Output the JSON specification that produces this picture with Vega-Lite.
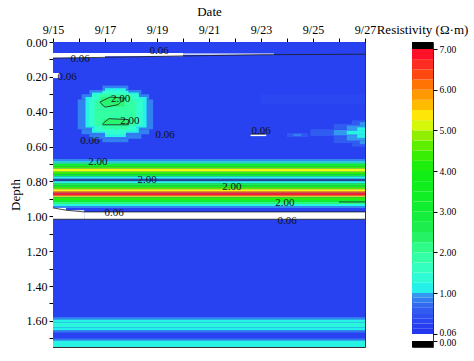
{
  "$schema": "https://vega.github.io/schema/vega-lite/v6.json",
  "padding": {"left": 8, "top": 4, "right": 0, "bottom": 5},
  "spacing": 47,
  "bounds": "flush",
  "datasets": {
    "cells": [
      {"d0": 15, "d1": 27, "z0": 0, "z1": 1.75, "r": 0.3},
      {"d0": 23.0, "d1": 27, "z0": 0.3, "z1": 0.36, "r": 0.38},
      {"d0": 15, "d1": 17, "z0": 0.063, "z1": 0.09, "r": 0.03},
      {"d0": 17, "d1": 20, "z0": 0.063, "z1": 0.082, "r": 0.03},
      {"d0": 20, "d1": 23.5, "z0": 0.066, "z1": 0.073, "r": 0.03},
      {"d0": 15, "d1": 15.25, "z0": 0.178, "z1": 0.207, "r": 0.03},
      {"d0": 16.9, "d1": 17.9, "z0": 0.25, "z1": 0.275, "r": 0.85},
      {"d0": 16.4, "d1": 18.4, "z0": 0.275, "z1": 0.3, "r": 0.85},
      {"d0": 16.1, "d1": 18.7, "z0": 0.3, "z1": 0.33, "r": 0.85},
      {"d0": 15.95, "d1": 18.85, "z0": 0.33, "z1": 0.5, "r": 0.85},
      {"d0": 16.1, "d1": 18.7, "z0": 0.5, "z1": 0.53, "r": 0.85},
      {"d0": 16.4, "d1": 18.4, "z0": 0.53, "z1": 0.555, "r": 0.85},
      {"d0": 16.9, "d1": 17.9, "z0": 0.555, "z1": 0.575, "r": 0.85},
      {"d0": 17.0, "d1": 17.8, "z0": 0.265, "z1": 0.29, "r": 1.15},
      {"d0": 16.5, "d1": 18.3, "z0": 0.29, "z1": 0.315, "r": 1.15},
      {"d0": 16.25, "d1": 18.6, "z0": 0.315, "z1": 0.49, "r": 1.15},
      {"d0": 16.5, "d1": 18.3, "z0": 0.49, "z1": 0.52, "r": 1.15},
      {"d0": 17.0, "d1": 17.8, "z0": 0.52, "z1": 0.545, "r": 1.15},
      {"d0": 16.9, "d1": 17.9, "z0": 0.28, "z1": 0.3, "r": 1.5},
      {"d0": 16.5, "d1": 18.3, "z0": 0.3, "z1": 0.33, "r": 1.5},
      {"d0": 16.4, "d1": 18.45, "z0": 0.33, "z1": 0.48, "r": 1.5},
      {"d0": 16.6, "d1": 18.2, "z0": 0.48, "z1": 0.51, "r": 1.5},
      {"d0": 17.0, "d1": 17.8, "z0": 0.51, "z1": 0.53, "r": 1.5},
      {"d0": 16.8, "d1": 18.0, "z0": 0.3, "z1": 0.33, "r": 1.9},
      {"d0": 16.6, "d1": 18.2, "z0": 0.33, "z1": 0.48, "r": 1.9},
      {"d0": 16.9, "d1": 17.9, "z0": 0.48, "z1": 0.5, "r": 1.9},
      {"d0": 16.85, "d1": 17.75, "z0": 0.318, "z1": 0.37, "r": 2.3},
      {"d0": 16.95, "d1": 17.9, "z0": 0.442, "z1": 0.475, "r": 2.3},
      {"d0": 24.9, "d1": 27, "z0": 0.5, "z1": 0.54, "r": 0.6},
      {"d0": 25.8, "d1": 27, "z0": 0.47, "z1": 0.5, "r": 0.6},
      {"d0": 25.8, "d1": 27, "z0": 0.54, "z1": 0.58, "r": 0.6},
      {"d0": 26.5, "d1": 27, "z0": 0.45, "z1": 0.47, "r": 0.6},
      {"d0": 26.5, "d1": 27, "z0": 0.58, "z1": 0.6, "r": 0.6},
      {"d0": 25.8, "d1": 27, "z0": 0.505, "z1": 0.535, "r": 0.95},
      {"d0": 26.3, "d1": 27, "z0": 0.48, "z1": 0.505, "r": 0.95},
      {"d0": 26.3, "d1": 27, "z0": 0.535, "z1": 0.565, "r": 0.95},
      {"d0": 26.8, "d1": 27, "z0": 0.46, "z1": 0.48, "r": 0.95},
      {"d0": 26.8, "d1": 27, "z0": 0.565, "z1": 0.585, "r": 0.95},
      {"d0": 26.3, "d1": 27, "z0": 0.51, "z1": 0.53, "r": 1.2},
      {"d0": 26.7, "d1": 27, "z0": 0.49, "z1": 0.51, "r": 1.2},
      {"d0": 26.7, "d1": 27, "z0": 0.53, "z1": 0.55, "r": 1.2},
      {"d0": 24.0, "d1": 24.8, "z0": 0.522, "z1": 0.545, "r": 0.55},
      {"d0": 24.25, "d1": 24.55, "z0": 0.527, "z1": 0.54, "r": 0.85},
      {"d0": 22.6, "d1": 23.2, "z0": 0.53, "z1": 0.54, "r": 0.03},
      {"d0": 15, "d1": 27, "z0": 0.672, "z1": 0.684, "r": 0.9},
      {"d0": 15, "d1": 27, "z0": 0.684, "z1": 0.692, "r": 1.2},
      {"d0": 15, "d1": 27, "z0": 0.692, "z1": 0.699, "r": 2.0},
      {"d0": 15, "d1": 27, "z0": 0.699, "z1": 0.713, "r": 3.0},
      {"d0": 15, "d1": 27, "z0": 0.713, "z1": 0.726, "r": 4.3},
      {"d0": 15, "d1": 27, "z0": 0.726, "z1": 0.745, "r": 5.2},
      {"d0": 15, "d1": 27, "z0": 0.745, "z1": 0.759, "r": 4.3},
      {"d0": 15, "d1": 27, "z0": 0.759, "z1": 0.772, "r": 3.0},
      {"d0": 15, "d1": 27, "z0": 0.772, "z1": 0.784, "r": 1.3},
      {"d0": 15, "d1": 27, "z0": 0.784, "z1": 0.799, "r": 0.7},
      {"d0": 15, "d1": 27, "z0": 0.799, "z1": 0.81, "r": 1.3},
      {"d0": 15, "d1": 27, "z0": 0.81, "z1": 0.822, "r": 2.6},
      {"d0": 15, "d1": 27, "z0": 0.822, "z1": 0.833, "r": 3.5},
      {"d0": 15, "d1": 27, "z0": 0.833, "z1": 0.845, "r": 4.6},
      {"d0": 15, "d1": 27, "z0": 0.845, "z1": 0.856, "r": 5.3},
      {"d0": 15, "d1": 27, "z0": 0.856, "z1": 0.862, "r": 5.8},
      {"d0": 15, "d1": 27, "z0": 0.862, "z1": 0.868, "r": 6.3},
      {"d0": 15, "d1": 27, "z0": 0.868, "z1": 0.879, "r": 6.8},
      {"d0": 15, "d1": 27, "z0": 0.879, "z1": 0.885, "r": 6.0},
      {"d0": 15, "d1": 27, "z0": 0.885, "z1": 0.891, "r": 5.3},
      {"d0": 15, "d1": 27, "z0": 0.891, "z1": 0.906, "r": 4.2},
      {"d0": 15, "d1": 27, "z0": 0.906, "z1": 0.918, "r": 3.0},
      {"d0": 15, "d1": 27, "z0": 0.918, "z1": 0.929, "r": 2.2},
      {"d0": 15, "d1": 27, "z0": 0.929, "z1": 0.941, "r": 1.2},
      {"d0": 15, "d1": 27, "z0": 0.941, "z1": 0.952, "r": 0.9},
      {"d0": 15, "d1": 15.5, "z0": 0.952, "z1": 1.017, "r": 0.03},
      {"d0": 15.5, "d1": 16.2, "z0": 0.965, "z1": 1.017, "r": 0.03},
      {"d0": 16.2, "d1": 27, "z0": 0.975, "z1": 1.017, "r": 0.03},
      {"d0": 15, "d1": 27, "z0": 1.58, "z1": 1.592, "r": 0.9},
      {"d0": 15, "d1": 27, "z0": 1.592, "z1": 1.609, "r": 1.15},
      {"d0": 15, "d1": 27, "z0": 1.609, "z1": 1.638, "r": 1.3},
      {"d0": 15, "d1": 27, "z0": 1.638, "z1": 1.655, "r": 1.1},
      {"d0": 15, "d1": 27, "z0": 1.655, "z1": 1.667, "r": 0.8},
      {"d0": 15, "d1": 27, "z0": 1.701, "z1": 1.713, "r": 0.8},
      {"d0": 15, "d1": 27, "z0": 1.713, "z1": 1.75, "r": 1.2}
    ],
    "contours": [
      {"g": "a", "o": 1, "d0": 15, "z0": 0.093},
      {"g": "a", "o": 2, "d0": 17, "z0": 0.088},
      {"g": "a", "o": 3, "d0": 20, "z0": 0.08},
      {"g": "a", "o": 4, "d0": 23, "z0": 0.073},
      {"g": "a", "o": 5, "d0": 27, "z0": 0.07},
      {"g": "b", "o": 1, "d0": 16.8, "z0": 0.345},
      {"g": "b", "o": 2, "d0": 17.2, "z0": 0.316},
      {"g": "b", "o": 3, "d0": 17.75, "z0": 0.322},
      {"g": "b", "o": 4, "d0": 17.5, "z0": 0.36},
      {"g": "b", "o": 5, "d0": 17.0, "z0": 0.374},
      {"g": "b", "o": 6, "d0": 16.8, "z0": 0.345},
      {"g": "c", "o": 1, "d0": 16.9, "z0": 0.47},
      {"g": "c", "o": 2, "d0": 17.15, "z0": 0.44},
      {"g": "c", "o": 3, "d0": 17.9, "z0": 0.445},
      {"g": "c", "o": 4, "d0": 17.9, "z0": 0.475},
      {"g": "c", "o": 5, "d0": 16.9, "z0": 0.475},
      {"g": "d", "o": 1, "d0": 15, "z0": 0.792},
      {"g": "d", "o": 2, "d0": 27, "z0": 0.792},
      {"g": "e", "o": 1, "d0": 26, "z0": 0.918},
      {"g": "e", "o": 2, "d0": 27, "z0": 0.918},
      {"g": "f", "o": 1, "d0": 15, "z0": 0.952},
      {"g": "f", "o": 2, "d0": 15.5, "z0": 0.965},
      {"g": "f", "o": 3, "d0": 16.2, "z0": 0.975},
      {"g": "f", "o": 4, "d0": 27, "z0": 0.975},
      {"g": "h", "o": 1, "d0": 15, "z0": 1.017},
      {"g": "h", "o": 2, "d0": 27, "z0": 1.017},
      {"g": "i", "o": 1, "d0": 22.6, "z0": 0.528},
      {"g": "i", "o": 2, "d0": 23.2, "z0": 0.528}
    ],
    "labels": [
      {"d0": 19.08, "z0": 0.052, "t": "0.06"},
      {"d0": 16.04, "z0": 0.098, "t": "0.06"},
      {"d0": 15.54, "z0": 0.201, "t": "0.06"},
      {"d0": 17.6, "z0": 0.328, "t": "2.00"},
      {"d0": 17.96, "z0": 0.454, "t": "2.00"},
      {"d0": 16.42, "z0": 0.567, "t": "0.06"},
      {"d0": 19.31, "z0": 0.534, "t": "0.06"},
      {"d0": 23.0, "z0": 0.513, "t": "0.06"},
      {"d0": 16.73, "z0": 0.69, "t": "2.00"},
      {"d0": 18.62, "z0": 0.79, "t": "2.00"},
      {"d0": 21.88, "z0": 0.833, "t": "2.00"},
      {"d0": 23.92, "z0": 0.925, "t": "2.00"},
      {"d0": 17.35, "z0": 0.983, "t": "0.06"},
      {"d0": 24.0, "z0": 1.029, "t": "0.06"}
    ],
    "bar": [
      {"lo": -0.15, "hi": 0, "r": -0.5},
      {"lo": 0, "hi": 0.06, "r": 0.03},
      {"lo": 0.06, "hi": 0.18, "r": 0.12},
      {"lo": 0.18, "hi": 0.3, "r": 0.24},
      {"lo": 0.3, "hi": 0.42, "r": 0.36},
      {"lo": 0.42, "hi": 0.54, "r": 0.48},
      {"lo": 0.54, "hi": 0.66, "r": 0.6},
      {"lo": 0.66, "hi": 0.78, "r": 0.72},
      {"lo": 0.78, "hi": 0.9, "r": 0.84},
      {"lo": 0.9, "hi": 1.0, "r": 0.95},
      {"lo": 1.0, "hi": 1.25, "r": 1.125},
      {"lo": 1.25, "hi": 1.5, "r": 1.375},
      {"lo": 1.5, "hi": 1.75, "r": 1.625},
      {"lo": 1.75, "hi": 2.0, "r": 1.875},
      {"lo": 2.0, "hi": 2.25, "r": 2.125},
      {"lo": 2.25, "hi": 2.5, "r": 2.375},
      {"lo": 2.5, "hi": 2.75, "r": 2.625},
      {"lo": 2.75, "hi": 3.0, "r": 2.875},
      {"lo": 3.0, "hi": 3.25, "r": 3.125},
      {"lo": 3.25, "hi": 3.5, "r": 3.375},
      {"lo": 3.5, "hi": 3.75, "r": 3.625},
      {"lo": 3.75, "hi": 4.0, "r": 3.875},
      {"lo": 4.0, "hi": 4.25, "r": 4.125},
      {"lo": 4.25, "hi": 4.5, "r": 4.375},
      {"lo": 4.5, "hi": 4.75, "r": 4.625},
      {"lo": 4.75, "hi": 5.0, "r": 4.875},
      {"lo": 5.0, "hi": 5.25, "r": 5.125},
      {"lo": 5.25, "hi": 5.5, "r": 5.375},
      {"lo": 5.5, "hi": 5.75, "r": 5.625},
      {"lo": 5.75, "hi": 6.0, "r": 5.875},
      {"lo": 6.0, "hi": 6.25, "r": 6.125},
      {"lo": 6.25, "hi": 6.5, "r": 6.375},
      {"lo": 6.5, "hi": 6.75, "r": 6.625},
      {"lo": 6.75, "hi": 7.0, "r": 6.875},
      {"lo": 7.0, "hi": 7.15, "r": 7.5}
    ]
  },
  "hconcat": [
    {
      "width": 312,
      "height": 305,
      "encoding": {
        "x": {
          "field": "d0", "type": "quantitative",
          "scale": {"domain": [15, 27], "nice": false, "zero": false},
          "axis": {
            "orient": "top", "title": "Date", "titleFontSize": 13, "titlePadding": 5,
            "titleFont": "Liberation Serif", "labelFont": "Liberation Serif",
            "values": [15, 16, 17, 18, 19, 20, 21, 22, 23, 24, 25, 26, 27],
            "labelExpr": "datum.value % 2 == 1 ? '9/' + datum.value : ''",
            "labelFontSize": 12, "tickSize": 4, "labelPadding": 2, "labelFlush": false, "labelOverlap": false
          }
        },
        "y": {
          "field": "z0", "type": "quantitative",
          "scale": {"domain": [0, 1.75], "nice": false, "zero": false, "reverse": true},
          "axis": {
            "title": "Depth", "titleFontSize": 13, "titlePadding": 4,
            "titleFont": "Liberation Serif", "labelFont": "Liberation Serif",
            "values": [0, 0.1, 0.2, 0.3, 0.4, 0.5, 0.6, 0.7, 0.8, 0.9, 1.0, 1.1, 1.2, 1.3, 1.4, 1.5, 1.6, 1.7],
            "labelExpr": "round(datum.value * 10) % 2 == 0 ? format(datum.value, '.2f') : ''",
            "labelFontSize": 12, "tickSize": 4, "labelPadding": 2, "labelFlush": false, "labelOverlap": false
          }
        }
      },
      "layer": [
        {
          "data": {"name": "cells"},
          "mark": {"type": "rect"},
          "encoding": {
            "x2": {"field": "d1"},
            "y2": {"field": "z1"},
            "color": {
              "field": "r", "type": "quantitative", "legend": null,
              "scale": {
                "type": "linear", "interpolate": "rgb", "clamp": true,
                "domain": [-1, -0.01, 0, 0.059, 0.06, 0.4, 0.7, 0.9, 1.0, 1.05, 1.5, 2.0, 2.5, 3.0, 4.0, 4.5, 5.0, 5.25, 5.5, 6.0, 6.4, 6.8, 7.0, 7.01, 8],
                "range": ["#000000", "#000000", "#ffffff", "#ffffff", "#2233ee", "#2a48f2", "#3366f0", "#3388f0", "#33aaf0", "#22eeee", "#33ffcc", "#33ff99", "#22ee55", "#11ee33", "#11ee11", "#44ee00", "#aaee00", "#ffff11", "#ffcc00", "#ff8800", "#ff4411", "#ff1a2e", "#ff0022", "#000000", "#000000"]
              }
            }
          }
        },
        {
          "data": {"name": "contours"},
          "mark": {"type": "line", "color": "#1a1a1a", "strokeWidth": 0.8},
          "encoding": {
            "detail": {"field": "g", "type": "nominal"},
            "order": {"field": "o", "type": "quantitative"}
          }
        },
        {
          "data": {"name": "labels"},
          "mark": {"type": "text", "font": "Liberation Serif", "fontSize": 11, "color": "#111111"},
          "encoding": {
            "text": {"field": "t", "type": "nominal"}
          }
        }
      ]
    },
    {
      "width": 21,
      "height": 305,
      "title": {"text": "Resistivity (Ω·m)", "anchor": "middle", "fontSize": 13, "offset": 5},
      "data": {"name": "bar"},
      "mark": {"type": "rect"},
      "encoding": {
        "y": {
          "field": "lo", "type": "quantitative",
          "scale": {"domain": [-0.15, 0, 0.06, 1, 7, 7.15], "range": [305, 299, 292, 251, 7, 0], "nice": false, "zero": false},
          "axis": {
            "orient": "right", "title": null, "values": [0, 0.06, 1, 2, 3, 4, 5, 6, 7], "format": ".2f",
            "labelFont": "Liberation Serif",
            "labelFontSize": 9.5, "tickSize": 4, "labelPadding": 2, "domain": false, "labelOverlap": false, "labelFlush": false, "labelBound": false,
            "labelOffset": {"expr": "datum.value == 0.06 ? -1.5 : (datum.value == 0 ? 1.5 : 0)"}
          }
        },
        "y2": {"field": "hi"},
        "color": {
          "field": "r", "type": "quantitative", "legend": null,
          "scale": {
            "type": "linear", "interpolate": "rgb", "clamp": true,
            "domain": [-1, -0.01, 0, 0.059, 0.06, 0.4, 0.7, 0.9, 1.0, 1.05, 1.5, 2.0, 2.5, 3.0, 4.0, 4.5, 5.0, 5.25, 5.5, 6.0, 6.4, 6.8, 7.0, 7.01, 8],
            "range": ["#000000", "#000000", "#ffffff", "#ffffff", "#2233ee", "#2a48f2", "#3366f0", "#3388f0", "#33aaf0", "#22eeee", "#33ffcc", "#33ff99", "#22ee55", "#11ee33", "#11ee11", "#44ee00", "#aaee00", "#ffff11", "#ffcc00", "#ff8800", "#ff4411", "#ff1a2e", "#ff0022", "#000000", "#000000"]
          }
        }
      }
    }
  ],
  "config": {
    "view": {"stroke": "#333333", "strokeWidth": 1},
    "axis": {
      "labelFont": "Liberation Serif", "titleFont": "Liberation Serif",
      "labelColor": "#000000", "titleColor": "#000000", "titleFontWeight": "normal",
      "domainColor": "#000000", "tickColor": "#000000", "grid": false
    },
    "title": {"font": "Liberation Serif", "fontWeight": "normal", "color": "#000000"}
  }
}
